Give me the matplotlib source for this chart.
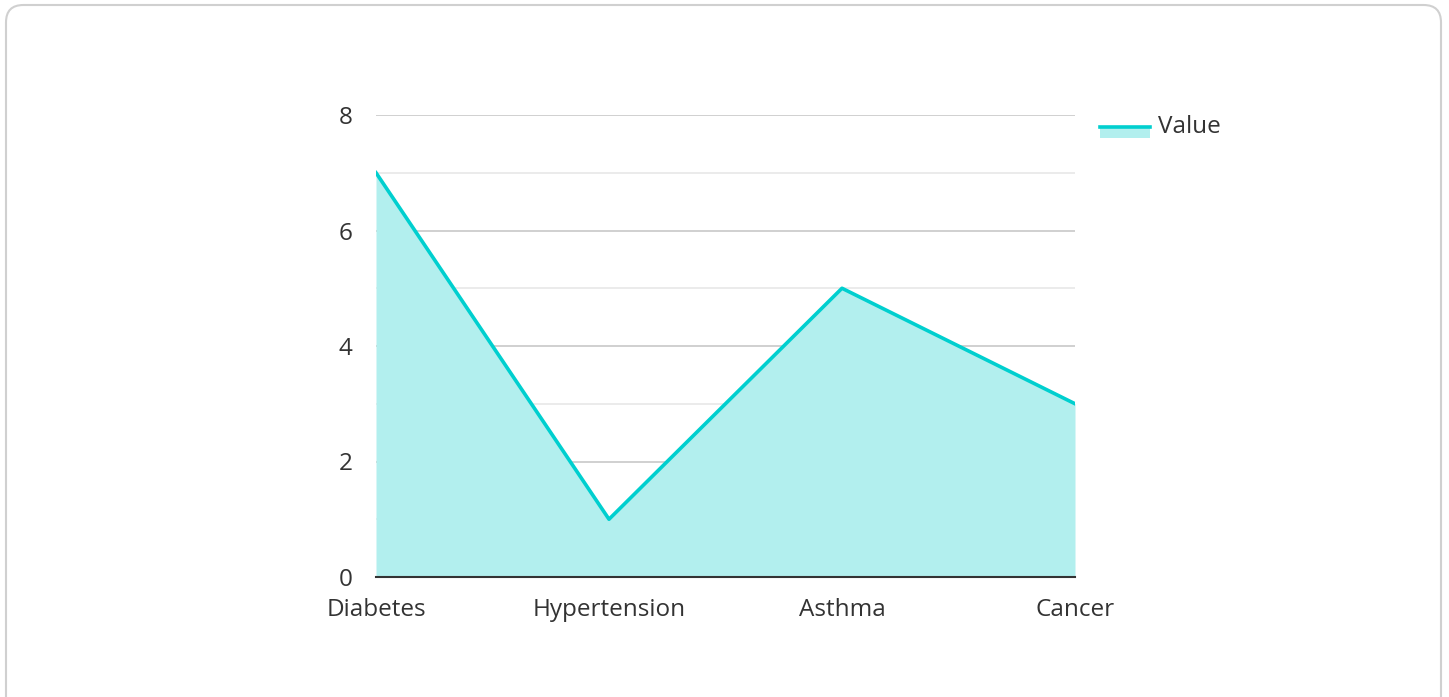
import matplotlib.pyplot as plt
from matplotlib.patches import FancyBboxPatch, Rectangle
from matplotlib.lines import Line2D
import numpy as np

plt.rcParams['font.family'] = ['Open Sans', 'DejaVu Sans']

categories = ["Diabetes", "Hypertension", "Asthma", "Cancer"]
values = [7, 1, 5, 3]
y_ticks = [0, 2, 4, 6, 8]
y_minor = [1, 3, 5, 7]

line_color = "#00CFCF"
fill_color = "#B2EFEE"
text_color = "#333333"
fs = 17.5

W, H = 1449, 697
fig = plt.figure(figsize=(W / 100, H / 100), dpi=100)

# rounded card behind the chart (bottom edge runs off the figure)
card = FancyBboxPatch((6 / W, -40 / H), 1435 / W, (H - 5 + 40) / H,
                      boxstyle="round,pad=0,rounding_size=0.012",
                      mutation_aspect=W / H,
                      transform=fig.transFigure, facecolor="white",
                      edgecolor="#d0d0d0", linewidth=1.5, clip_on=False,
                      zorder=-5)
fig.patches.append(card)

ax = fig.add_axes([376 / W, 120 / H, 699 / W, 462 / H])
ax.set_facecolor("none")
ax.set_zorder(2)

x = np.arange(len(categories))
ax.fill_between(x, values, 0, color=fill_color, linewidth=0, zorder=2)
ax.plot(x, values, color=line_color, linewidth=2.6, zorder=3)

ax.set_xlim(0, len(categories) - 1)
ax.set_ylim(0, 8)

for t in y_ticks[1:]:
    ax.axhline(t, color="#c4c4c4", linewidth=1.1, zorder=1)
for t in y_minor:
    ax.axhline(t, color="#e6e6e6", linewidth=1.1, zorder=1)

ax.set_yticks(y_ticks)
ax.set_yticklabels([str(t) for t in y_ticks])
ax.set_xticks(x)
ax.set_xticklabels(categories)
ax.tick_params(axis="both", length=0, labelsize=fs, colors=text_color)
ax.tick_params(axis="y", pad=17)
ax.tick_params(axis="x", pad=15)

for side in ["top", "right", "left"]:
    ax.spines[side].set_visible(False)
ax.spines["bottom"].set_color("#333333")
ax.spines["bottom"].set_linewidth(1.5)
ax.spines["bottom"].set_zorder(4)

# legend entry
fig.patches.append(Rectangle((1100 / W, (H - 138) / H), 50 / W, 12 / H,
                             transform=fig.transFigure, facecolor=fill_color,
                             edgecolor="none", zorder=3))
fig.lines.append(Line2D([1100 / W, 1150 / W], [(H - 127) / H] * 2,
                        transform=fig.transFigure, color=line_color,
                        linewidth=2.6, zorder=4))
fig.text(1158 / W, (H - 127) / H, "Value", fontsize=fs, color=text_color,
         va="center", ha="left")

fig.savefig("out.png", dpi=100)
